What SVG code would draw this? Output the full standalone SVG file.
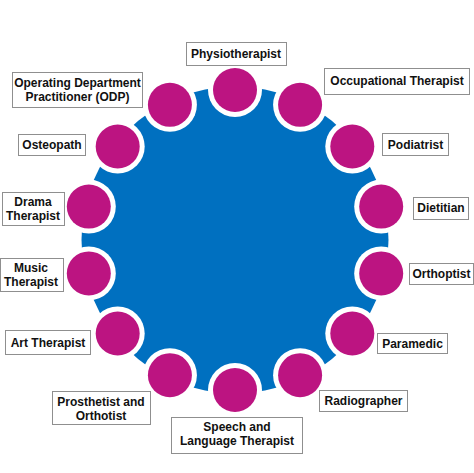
<svg xmlns="http://www.w3.org/2000/svg" width="474" height="473" viewBox="0 0 474 473">
<style>
.ring{fill:#ffffff}
.dot{fill:#BC1481}
.box{fill:#ffffff;stroke:#8f8f8f;stroke-width:1}
.lbl{font-family:"Liberation Sans",Arial,sans-serif;font-weight:bold;font-size:12px;fill:#111111;text-anchor:middle}
</style>
<rect width="474" height="473" fill="#ffffff"/>
<circle id="hub" cx="235" cy="240" r="153.5" fill="#0070C0"/>
<g id="connectors"/>
<g id="physio"><circle class="ring" cx="235" cy="90" r="27"/><circle class="dot" cx="235" cy="90" r="22"/><rect class="box" x="186.5" y="42.5" width="100" height="23"/><text class="lbl" x="236" y="58">Physiotherapist</text></g>
<g id="occupational"><circle class="ring" cx="300.1" cy="104.8" r="27"/><circle class="dot" cx="300.1" cy="104.8" r="22"/><rect class="box" x="324.5" y="68.5" width="145" height="26"/><text class="lbl" x="397" y="85">Occupational Therapist</text></g>
<g id="podiatrist"><circle class="ring" cx="352.3" cy="146.5" r="27"/><circle class="dot" cx="352.3" cy="146.5" r="22"/><rect class="box" x="382.5" y="133.5" width="66" height="22"/><text class="lbl" x="415.5" y="148.5">Podiatrist</text></g>
<g id="dietitian"><circle class="ring" cx="381.2" cy="206.6" r="27"/><circle class="dot" cx="381.2" cy="206.6" r="22"/><rect class="box" x="413.5" y="197.5" width="55" height="22"/><text class="lbl" x="441" y="212">Dietitian</text></g>
<g id="orthoptist"><circle class="ring" cx="381.2" cy="273.4" r="27"/><circle class="dot" cx="381.2" cy="273.4" r="22"/><rect class="box" x="409.5" y="263.5" width="64" height="21"/><text class="lbl" x="441.5" y="278">Orthoptist</text></g>
<g id="paramedic"><circle class="ring" cx="352.3" cy="333.5" r="27"/><circle class="dot" cx="352.3" cy="333.5" r="22"/><rect class="box" x="377.5" y="333.5" width="70" height="20"/><text class="lbl" x="412.5" y="347.5">Paramedic</text></g>
<g id="radiographer"><circle class="ring" cx="300.1" cy="375.2" r="27"/><circle class="dot" cx="300.1" cy="375.2" r="22"/><rect class="box" x="319.5" y="390.5" width="88" height="21"/><text class="lbl" x="363.5" y="405">Radiographer</text></g>
<g id="speech"><circle class="ring" cx="235" cy="390" r="27"/><circle class="dot" cx="235" cy="390" r="22"/><rect class="box" x="171.5" y="417.5" width="131" height="36"/><text class="lbl" x="237" y="431">Speech and</text><text class="lbl" x="237" y="445">Language Therapist</text></g>
<g id="prosthetist"><circle class="ring" cx="169.9" cy="375.2" r="27"/><circle class="dot" cx="169.9" cy="375.2" r="22"/><rect class="box" x="52.5" y="391.5" width="98" height="33"/><text class="lbl" x="101" y="406">Prosthetist and</text><text class="lbl" x="101" y="420">Orthotist</text></g>
<g id="art"><circle class="ring" cx="117.7" cy="333.5" r="27"/><circle class="dot" cx="117.7" cy="333.5" r="22"/><rect class="box" x="5.5" y="330.5" width="85" height="24"/><text class="lbl" x="48" y="347">Art Therapist</text></g>
<g id="music"><circle class="ring" cx="88.8" cy="273.4" r="27"/><circle class="dot" cx="88.8" cy="273.4" r="22"/><rect class="box" x="0.5" y="258.5" width="63" height="33"/><text class="lbl" x="31" y="271.5">Music</text><text class="lbl" x="31" y="285.5">Therapist</text></g>
<g id="drama"><circle class="ring" cx="88.8" cy="206.6" r="27"/><circle class="dot" cx="88.8" cy="206.6" r="22"/><rect class="box" x="2.5" y="192.5" width="62" height="33"/><text class="lbl" x="33" y="205.5">Drama</text><text class="lbl" x="33" y="219.5">Therapist</text></g>
<g id="osteopath"><circle class="ring" cx="117.7" cy="146.5" r="27"/><circle class="dot" cx="117.7" cy="146.5" r="22"/><rect class="box" x="18.5" y="134.5" width="67" height="21"/><text class="lbl" x="52" y="149">Osteopath</text></g>
<g id="odp"><circle class="ring" cx="169.9" cy="104.8" r="27"/><circle class="dot" cx="169.9" cy="104.8" r="22"/><rect class="box" x="12.5" y="72.5" width="130" height="35"/><text class="lbl" x="77.5" y="87">Operating Department</text><text class="lbl" x="77.5" y="100.5">Practitioner (ODP)</text></g>
</svg>
